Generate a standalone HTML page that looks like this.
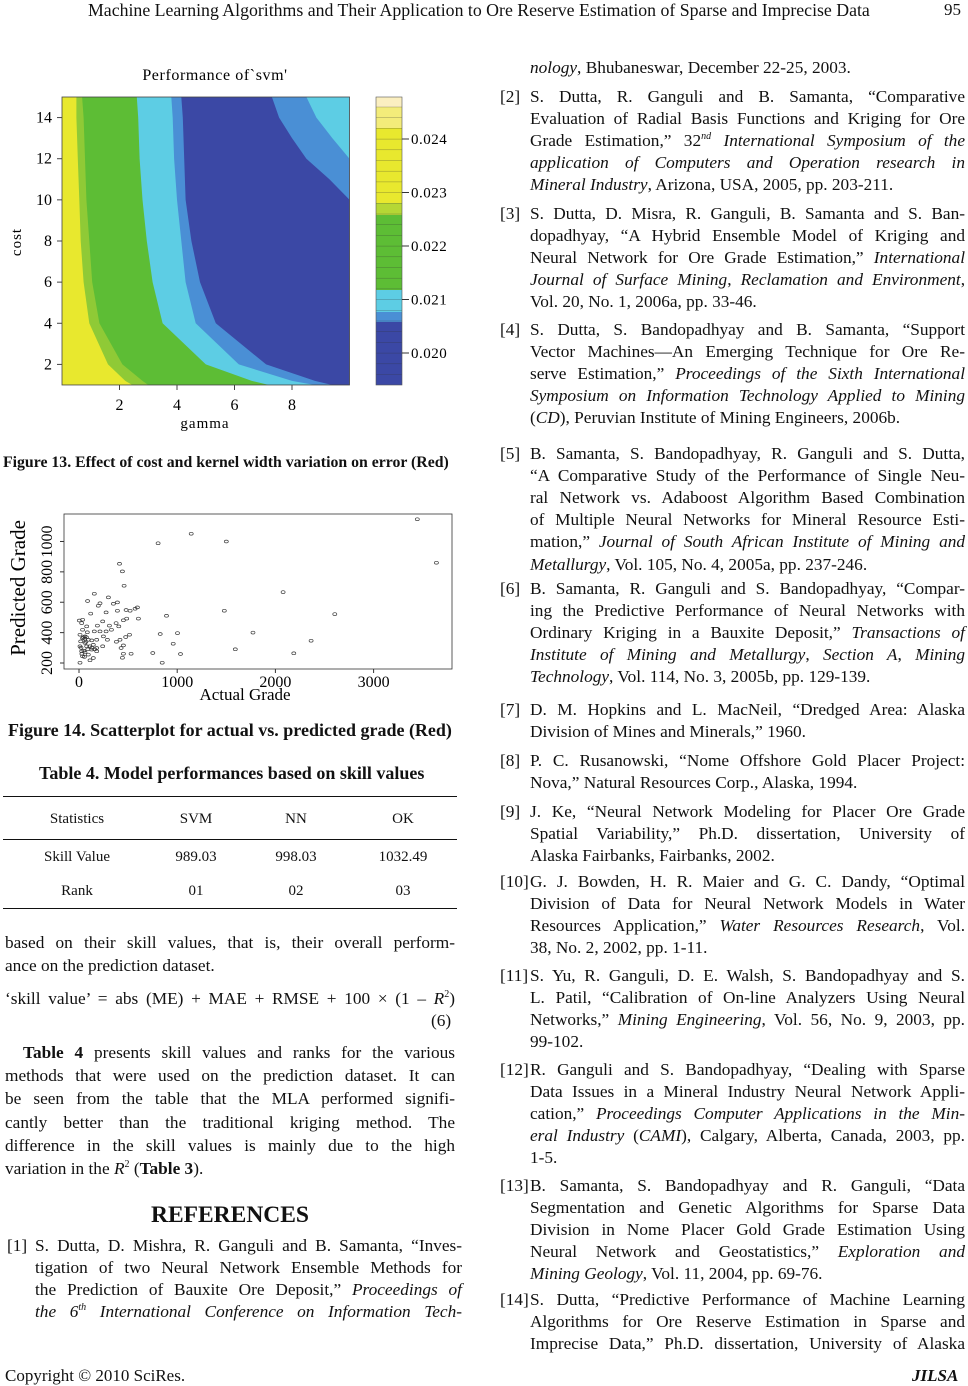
<!DOCTYPE html>
<html><head><meta charset="utf-8">
<style>
body{margin:0;width:968px;height:1386px;position:relative;background:#fff;font-family:"Liberation Serif",serif;color:#111;overflow:hidden}
.t{position:absolute;font-size:17.3px;line-height:20px;white-space:nowrap}
.j{position:absolute;font-size:17.3px;line-height:20px;text-align:justify;text-align-last:justify;white-space:nowrap}
.n{position:absolute;font-size:17.3px;line-height:20px}
sup{font-size:10px;line-height:0}
svg text{font-family:"Liberation Serif",serif}
</style></head><body>
<div class="t" style="left:88px;top:0px;font-size:17.8px">Machine Learning Algorithms and Their Application to Ore Reserve Estimation of Sparse and Imprecise Data</div>
<div class="t" style="left:944px;top:0px;font-size:17px">95</div>

<svg id="contour" style="position:absolute;left:0;top:55px" width="460" height="390" viewBox="0 55 460 390"></svg>
<div class="t" style="left:3px;top:453px;font-size:15.8px;font-weight:bold">Figure 13. Effect of cost and kernel width variation on error (Red)</div>

<svg id="scatter" style="position:absolute;left:0;top:505px" width="460" height="205" viewBox="0 505 460 205"></svg>
<div class="t" style="left:8px;top:719px;font-size:18px;line-height:22px;font-weight:bold">Figure 14. Scatterplot for actual vs. predicted grade (Red)</div>

<div class="t" style="left:39px;top:762px;font-size:18px;line-height:22px;font-weight:bold">Table 4. Model performances based on skill values</div>
<div style="position:absolute;left:3px;top:796px;width:454px;height:1px;background:#111"></div>
<div style="position:absolute;left:3px;top:839px;width:454px;height:1px;background:#111"></div>
<div style="position:absolute;left:3px;top:908px;width:454px;height:1px;background:#111"></div>
<div>
<div class="t" style="font-size:15px;left:27px;top:809px;width:100px;text-align:center">Statistics</div>
<div class="t" style="font-size:15px;left:146px;top:809px;width:100px;text-align:center">SVM</div>
<div class="t" style="font-size:15px;left:246px;top:809px;width:100px;text-align:center">NN</div>
<div class="t" style="font-size:15px;left:353px;top:809px;width:100px;text-align:center">OK</div>
<div class="t" style="font-size:15px;left:27px;top:847px;width:100px;text-align:center">Skill Value</div>
<div class="t" style="font-size:15px;left:146px;top:847px;width:100px;text-align:center">989.03</div>
<div class="t" style="font-size:15px;left:246px;top:847px;width:100px;text-align:center">998.03</div>
<div class="t" style="font-size:15px;left:353px;top:847px;width:100px;text-align:center">1032.49</div>
<div class="t" style="font-size:15px;left:27px;top:881px;width:100px;text-align:center">Rank</div>
<div class="t" style="font-size:15px;left:146px;top:881px;width:100px;text-align:center">01</div>
<div class="t" style="font-size:15px;left:246px;top:881px;width:100px;text-align:center">02</div>
<div class="t" style="font-size:15px;left:353px;top:881px;width:100px;text-align:center">03</div>
</div>

<div>
<div class="j" style="left:5px;top:933px;width:450px">based on their skill values, that is, their overall perform-</div>
<div class="t" style="left:5px;top:956px">ance on the prediction dataset.</div>
<div class="j" style="left:5px;top:989px;width:450px">‘skill value’ = abs (ME) + MAE + RMSE + 100 × (1 – <i>R</i><sup>2</sup>)</div>
<div class="t" style="left:431px;top:1011px">(6)</div>
<div class="j" style="left:23px;top:1043px;width:432px"><b>Table 4</b> presents skill values and ranks for the various</div>
<div class="j" style="left:5px;top:1066px;width:450px">methods that were used on the prediction dataset. It can</div>
<div class="j" style="left:5px;top:1089px;width:450px">be seen from the table that the MLA performed signifi-</div>
<div class="j" style="left:5px;top:1113px;width:450px">cantly better than the traditional kriging method. The</div>
<div class="j" style="left:5px;top:1136px;width:450px">difference in the skill values is mainly due to the high</div>
<div class="t" style="left:5px;top:1159px">variation in the <i>R</i><sup>2</sup> (<b>Table 3</b>).</div>
</div>
<div class="t" style="left:151px;top:1202px;font-size:23.5px;line-height:26px;font-weight:bold">REFERENCES</div>
<div>
<div class="n" style="left:7px;top:1236px">[1]</div>
<div class="j" style="left:35px;top:1236px;width:427px">S. Dutta, D. Mishra, R. Ganguli and B. Samanta, “Inves-</div>
<div class="j" style="left:35px;top:1258px;width:427px">tigation of two Neural Network Ensemble Methods for</div>
<div class="j" style="left:35px;top:1280px;width:427px">the Prediction of Bauxite Ore Deposit,” <i>Proceedings of</i></div>
<div class="j" style="left:35px;top:1302px;width:427px"><i>the 6<sup>th</sup> International Conference on Information Tech-</i></div>
</div>

<div id="refs"></div>

<div class="t" style="left:5px;top:1366px;font-size:17px">Copyright © 2010 SciRes.</div>
<div class="t" style="left:912px;top:1366px;font-size:17px;font-weight:bold;font-style:italic">JILSA</div>

<script>
// ---------- References (right column) ----------
const refs=[
 [null,68,["<i>nology</i>, Bhubaneswar, December 22-25, 2003."]],
 ["[2]",97,["S. Dutta, R. Ganguli and B. Samanta, “Comparative","Evaluation of Radial Basis Functions and Kriging for Ore","Grade Estimation,” 32<sup><i>nd</i></sup> <i>International Symposium of the</i>","<i>application of Computers and Operation research in</i>","<i>Mineral Industry</i>, Arizona, USA, 2005, pp. 203-211."]],
 ["[3]",214,["S. Dutta, D. Misra, R. Ganguli, B. Samanta and S. Ban-","dopadhyay, “A Hybrid Ensemble Model of Kriging and","Neural Network for Ore Grade Estimation,” <i>International</i>","<i>Journal of Surface Mining</i>, <i>Reclamation and Environment</i>,","Vol. 20, No. 1, 2006a, pp. 33-46."]],
 ["[4]",330,["S. Dutta, S. Bandopadhyay and B. Samanta, “Support","Vector Machines—An Emerging Technique for Ore Re-","serve Estimation,” <i>Proceedings of the Sixth International</i>","<i>Symposium on Information Technology Applied to Mining</i>","(<i>CD</i>), Peruvian Institute of Mining Engineers, 2006b."]],
 ["[5]",454,["B. Samanta, S. Bandopadhyay, R. Ganguli and S. Dutta,","“A Comparative Study of the Performance of Single Neu-","ral Network vs. Adaboost Algorithm Based Combination","of Multiple Neural Networks for Mineral Resource Esti-","mation,” <i>Journal of South African Institute of Mining and</i>","<i>Metallurgy</i>, Vol. 105, No. 4, 2005a, pp. 237-246."]],
 ["[6]",589,["B. Samanta, R. Ganguli and S. Bandopadhyay, “Compar-","ing the Predictive Performance of Neural Networks with","Ordinary Kriging in a Bauxite Deposit,” <i>Transactions of</i>","<i>Institute of Mining and Metallurgy</i>, <i>Section A</i>, <i>Mining</i>","<i>Technology</i>, Vol. 114, No. 3, 2005b, pp. 129-139."]],
 ["[7]",710,["D. M. Hopkins and L. MacNeil, “Dredged Area: Alaska","Division of Mines and Minerals,” 1960."]],
 ["[8]",761,["P. C. Rusanowski, “Nome Offshore Gold Placer Project:","Nova,” Natural Resources Corp., Alaska, 1994."]],
 ["[9]",812,["J. Ke, “Neural Network Modeling for Placer Ore Grade","Spatial Variability,” Ph.D. dissertation, University of","Alaska Fairbanks, Fairbanks, 2002."]],
 ["[10]",882,["G. J. Bowden, H. R. Maier and G. C. Dandy, “Optimal","Division of Data for Neural Network Models in Water","Resources Application,” <i>Water Resources Research</i>, Vol.","38, No. 2, 2002, pp. 1-11."]],
 ["[11]",976,["S. Yu, R. Ganguli, D. E. Walsh, S. Bandopadhyay and S.","L. Patil, “Calibration of On-line Analyzers Using Neural","Networks,” <i>Mining Engineering</i>, Vol. 56, No. 9, 2003, pp.","99-102."]],
 ["[12]",1070,["R. Ganguli and S. Bandopadhyay, “Dealing with Sparse","Data Issues in a Mineral Industry Neural Network Appli-","cation,” <i>Proceedings Computer Applications in the Min-</i>","<i>eral Industry</i> (<i>CAMI</i>), Calgary, Alberta, Canada, 2003, pp.","1-5."]],
 ["[13]",1186,["B. Samanta, S. Bandopadhyay and R. Ganguli, “Data","Segmentation and Genetic Algorithms for Sparse Data","Division in Nome Placer Gold Grade Estimation Using","Neural Network and Geostatistics,” <i>Exploration and</i>","<i>Mining Geology</i>, Vol. 11, 2004, pp. 69-76."]],
 ["[14]",1300,["S. Dutta, “Predictive Performance of Machine Learning","Algorithms for Ore Reserve Estimation in Sparse and","Imprecise Data,” Ph.D. dissertation, University of Alaska"]]
];
const refBox=document.getElementById('refs');
refs.forEach((r,ri)=>{
  const g=document.createElement('div');
  
  
  if(r[0]){const n=document.createElement('div');n.className='n';n.style.left='500px';n.style.top=(r[1]-10)+'px';n.textContent=r[0];g.appendChild(n);}
  r[2].forEach((l,i)=>{
    const d=document.createElement('div');
    const last=(i===r[2].length-1)&&ri!==refs.length-1;
    d.className=last?'t':'j';
    d.style.left='530px';d.style.width='435px';
    d.style.top=(r[1]-10+i*22.1)+'px';
    d.innerHTML=l;g.appendChild(d);
  });
  refBox.appendChild(g);
});

// ---------- Contour chart ----------
const NS='http://www.w3.org/2000/svg';
function el(p,tag,attrs,txt){const e=document.createElementNS(NS,tag);for(const k in attrs)e.setAttribute(k,attrs[k]);if(txt!==undefined)e.textContent=txt;p.appendChild(e);return e;}
const costLevels=[15,14,12,10,8,6,4,2,1.2,1];
const bMidDark=[4.15,4.2,4.25,4.3,4.5,4.8,5.35,7.1,8.8,9.4];
const bCyanMid=[3.8,3.85,3.9,4.0,4.15,4.3,4.65,6.15,8.0,8.8];
const bGreenCyan=[2.6,2.65,2.7,2.8,2.95,3.15,3.5,5.0,6.6,7.2];
const bLimeGreen=[0.7,0.75,0.8,0.85,0.95,1.05,1.3,2.1,2.8,3.0];
const bYellowLime=[0.5,0.5,0.55,0.6,0.65,0.75,0.95,1.6,2.2,2.45];
const costTR=[15,14,13,12,11,10];
const bDarkMidTR=[7.3,7.55,8.0,8.5,9.3,10];
const costTR2=[15,14,13,12];
const bMidCyanTR=[8.5,8.85,9.4,10];
const gammaTicks=[2,4,6,8];
const costTicks=[2,4,6,8,10,12,14];
const barLevels=[0.020,0.021,0.022,0.023,0.024];
const sx=g=>62+g*28.75, sy=c=>97+(15-c)*20.57;
const cs=document.getElementById('contour');
el(cs,'text',{x:215,y:80,'text-anchor':'middle','font-size':16,'letter-spacing':'0.6',},"Performance of`svm'");
const plot=el(cs,'g',{});
el(plot,'rect',{x:sx(0),y:sy(15),width:sx(10)-sx(0),height:sy(1)-sy(15),fill:'#3b48a5'});
function leftBand(b,col,name){
  let d='M'+sx(0)+','+sy(15);
  costLevels.forEach((c,i)=>{d+=' L'+sx(b[i]).toFixed(1)+','+sy(c).toFixed(1);});
  d+=' L'+sx(0)+','+sy(1)+'Z';
  const p=el(plot,'path',{d:d,fill:col});
  
  
}
leftBand(bMidDark,'#4a8fd5','band-mid-blue');
leftBand(bCyanMid,'#5dcde4','band-cyan');
leftBand(bGreenCyan,'#5dbd35','band-green');
leftBand(bLimeGreen,'#8fca36','band-lime');
leftBand(bYellowLime,'#e8e82e','band-yellow');
function trBand(cs_,b,col,name){
  let d='M'+sx(10)+','+sy(15);
  cs_.forEach((c,i)=>{d+=' L'+sx(b[i]).toFixed(1)+','+sy(c).toFixed(1);});
  d+='Z';
  const p=el(plot,'path',{d:d,fill:col});
  
  
}
trBand(costTR,bDarkMidTR,'#4a8fd5','band-top-right-mid-blue');
trBand(costTR2,bMidCyanTR,'#5dcde4','band-top-right-cyan');
el(cs,'rect',{x:sx(0),y:sy(15),width:sx(10)-sx(0),height:sy(1)-sy(15),fill:'none',stroke:'#444','stroke-width':0.8});
gammaTicks.forEach(g=>{
  el(cs,'line',{x1:sx(g),x2:sx(g),y1:385,y2:390,stroke:'#444'});
  const t=el(cs,'text',{x:sx(g),y:410,'text-anchor':'middle','font-size':16},g);
  
  
});
costTicks.forEach(c=>{
  el(cs,'line',{x1:57,x2:62,y1:sy(c),y2:sy(c),stroke:'#444'});
  const t=el(cs,'text',{x:52,y:sy(c)+5,'text-anchor':'end','font-size':16},c);
  
  
});
el(cs,'text',{x:205,y:428,'text-anchor':'middle','font-size':15,'letter-spacing':'1',},'gamma');
el(cs,'text',{x:0,y:0,transform:'translate(21,242) rotate(-90)','text-anchor':'middle','font-size':15,'letter-spacing':'1',},'cost');
// colorbar
const cb=el(cs,'g',{});
const segs=[[97,107,'#fbefc0'],[107,128,'#f3ec7a'],[128,203,'#e8e82e'],[203,215,'#b5d735'],[215,290,'#5dbd35'],[290,312,'#5dcde4'],[312,322,'#4a8fd5'],[322,385,'#3b48a5']];
segs.forEach(s=>el(cb,'rect',{x:376,y:s[0],width:26,height:s[1]-s[0],fill:s[2]}));
for(let y=107;y<385;y+=10.7){el(cb,'line',{x1:376,x2:402,y1:y,y2:y,stroke:'#333','stroke-width':0.4,'stroke-opacity':0.6});}
el(cb,'rect',{x:376,y:97,width:26,height:288,fill:'none',stroke:'#555','stroke-width':0.6});
const lvY=v=>353-(v-0.020)*53500;
barLevels.forEach(v=>{
  el(cb,'line',{x1:402,x2:409,y1:lvY(v),y2:lvY(v),stroke:'#333'});
  const t=el(cb,'text',{x:411,y:lvY(v)+5,'font-size':15,'letter-spacing':'0.5'},v.toFixed(3));
  
  
});

// ---------- Scatter chart ----------
const actualGrade=[3445,3640,1143,1500,806,412,442,459,2078,156,299,2605,1480,891,1772,827,1003,2364,959,1592,2187,752,1034,847,531,452,442,452,429,514,476,418,381,405,378,452,486,391,480,520,571,595,605,350,391,276,214,197,88,241,187,310,330,276,248,289,180,214,119,37,78,3,37,61,37,10,95,129,146,180,10,27,61,95,112,146,10,37,78,129,180,241,61,85,17,156,27,45,60,70,20,50,90,130,160,110,30,55,75];
const predictedGrade=[1147,860,1051,1000,989,853,803,709,667,656,632,522,544,511,400,391,397,347,327,290,264,266,259,202,261,261,235,316,299,386,371,353,340,441,463,481,492,544,549,544,557,566,492,590,599,533,593,577,608,474,446,446,419,408,375,353,353,408,525,485,441,480,419,375,364,386,353,349,320,299,310,277,270,255,218,233,202,244,310,288,277,310,332,402,342,408,463,370,360,340,300,280,290,300,290,310,260,240,370];
const xTicks=[0,1000,2000,3000];
const yTicks=[200,400,600,800,1000];
const px=v=>79+v*0.0982, py=v=>663-(v-200)*0.1519;
const sc=document.getElementById('scatter');
el(sc,'rect',{x:64,y:514,width:388,height:155,fill:'none',stroke:'#333','stroke-width':0.8,});
actualGrade.forEach((a,i)=>{
  const c=el(sc,'ellipse',{cx:px(a).toFixed(1),cy:py(predictedGrade[i]).toFixed(1),rx:2,ry:1.4,fill:'none',stroke:'#333','stroke-width':0.7});
  
  
});
xTicks.forEach(v=>{
  el(sc,'line',{x1:px(v),x2:px(v),y1:669,y2:673,stroke:'#333'});
  const t=el(sc,'text',{x:px(v),y:687,'text-anchor':'middle','font-size':16},v);
  
  
});
yTicks.forEach(v=>{
  el(sc,'line',{x1:60,x2:64,y1:py(v),y2:py(v),stroke:'#333'});
  const t=el(sc,'text',{x:0,y:0,transform:'translate(52,'+py(v)+') rotate(-90)','text-anchor':'middle','font-size':16},v);
  
  
});
el(sc,'text',{x:245,y:700,'text-anchor':'middle','font-size':17,},'Actual Grade');
el(sc,'text',{x:0,y:0,transform:'translate(25,588) rotate(-90)','text-anchor':'middle','font-size':21,},'Predicted Grade');
</script>
</body></html>
